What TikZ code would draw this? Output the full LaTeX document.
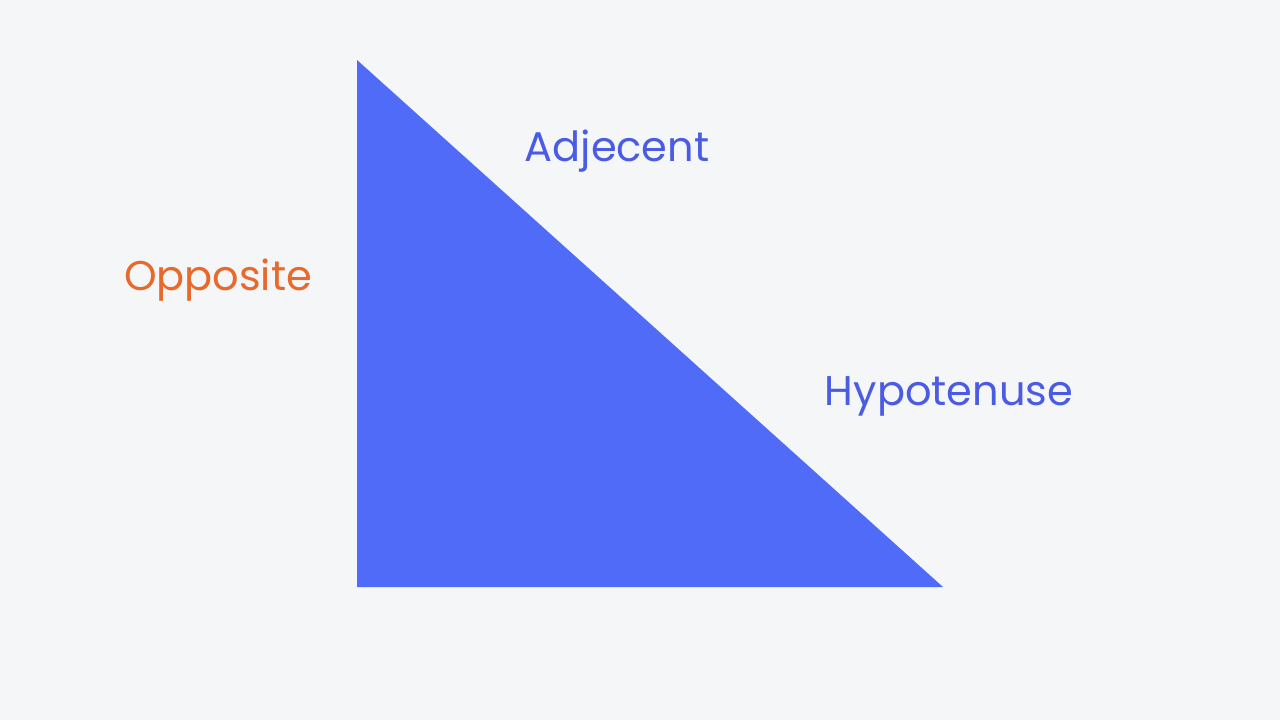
\documentclass[tikz,border=0pt]{standalone}
\usepackage{fontspec}
\setmainfont{Poppins}
\definecolor{bg}{HTML}{F5F6F7}
\definecolor{tri}{HTML}{4F6BF7}
\definecolor{bluetxt}{HTML}{4A5CE3}
\definecolor{orangetxt}{HTML}{E8692C}
\tikzset{lbl/.style={font=\fontsize{41.5}{45}\selectfont, inner sep=0pt, anchor=center}}
\begin{document}
\begin{tikzpicture}[x=1pt,y=-1pt]
\fill[bg] (0,0) rectangle (1280,720);
\useasboundingbox (0,0) rectangle (1280,720);
\coordinate (A) at (357,60);
\coordinate (B) at (357,587);
\coordinate (C) at (943,587);
\fill[tri] (A) -- (B) -- (C) -- cycle;
\node[lbl, text=bluetxt] (adj) at (617,151) {Adjecent};
\node[lbl, text=orangetxt] (opp) at (218,280) {Opposite};
\node[lbl, text=bluetxt] (hyp) at (949,396) {Hypotenuse};
\end{tikzpicture}
\end{document}
